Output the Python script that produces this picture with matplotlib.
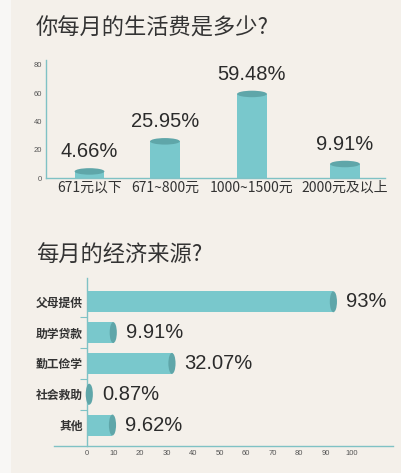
import matplotlib
matplotlib.use("Agg")
import matplotlib.pyplot as plt
from matplotlib.patches import Ellipse, Rectangle

plt.rcParams['font.family'] = ['Noto Sans CJK SC', 'DejaVu Sans']

# chart 1: monthly living expenses
cost_labels = ['671元以下', '671~800元', '1000~1500元', '2000元及以上']
cost_share = [4.66, 25.95, 59.48, 9.91]
cost_ticks = [0, 20, 40, 60, 80]

# chart 2: monthly income source
src_labels = ['父母提供', '助学贷款', '勤工俭学', '社会救助', '其他']
src_share = [93, 9.91, 32.07, 0.87, 9.62]
src_ticks = [0, 10, 20, 30, 40, 50, 60, 70, 80, 90, 100]

body = '#79c8cc'
cap = '#5fa6a9'
axis_col = '#7fc2c5'
bg = '#f4f0ea'
num_font = ['Liberation Sans', 'DejaVu Sans']

fig = plt.figure(figsize=(4.02, 4.73), dpi=100)
fig.patch.set_facecolor(bg)
fig.patches.append(Rectangle((0, 0), 11 / 402, 1, transform=fig.transFigure,
                             facecolor='#f8f7f5', edgecolor='none', zorder=0))

fig.text(36 / 402, 1 - 28 / 473, '你每月的生活费是多少?', fontsize=16,
         color='#333333', va='center', ha='left')
fig.text(36 / 402, 1 - 255 / 473, '每月的经济来源?', fontsize=16,
         color='#333333', va='center', ha='left')

# ---- top chart ----
ax1 = fig.add_axes([46 / 402, 1 - 178 / 473, (385 - 46) / 402, (178 - 60) / 473])
ax1.set_facecolor('none')
xs = [0, 0.886, 1.908, 3.0]  # bar slots, spaced as in the original layout
w = 0.35
ax1.bar(xs, cost_share, width=w, color=body, zorder=2)
for x, v in zip(xs, cost_share):
    ax1.add_patch(Ellipse((x, v), w, 4.6, facecolor=cap, edgecolor='none', zorder=3))
    ax1.annotate(f'{v:.2f}%', (x, v), xytext=(0, 14), textcoords='offset points',
                 ha='center', va='center', fontsize=14.5, color='#2b2b2b', family=num_font)
ax1.set_xlim(-0.511, 3.47)
ax1.set_ylim(0, 83.5)
ax1.set_xticks(xs)
ax1.set_xticklabels(cost_labels, fontsize=10, color='#333333')
ax1.set_yticks(cost_ticks)
ax1.set_yticklabels([str(t) for t in cost_ticks], fontsize=5.5, color='#555555',
                    family=num_font)
ax1.tick_params(axis='both', length=0)
ax1.tick_params(axis='x', pad=2)
ax1.tick_params(axis='y', pad=3)
for s in ['top', 'right']:
    ax1.spines[s].set_visible(False)
for s in ['left', 'bottom']:
    ax1.spines[s].set_color(axis_col)
    ax1.spines[s].set_linewidth(1)

# ---- bottom chart ----
ax2 = fig.add_axes([54 / 402, 1 - 446 / 473, (393 - 54) / 402, (446 - 278) / 473])
ax2.set_facecolor('none')
ys = list(range(len(src_share)))
h = 0.68
ax2.barh(ys, src_share, height=h, color=body, zorder=2)
for y, v in zip(ys, src_share):
    ax2.add_patch(Ellipse((v, y), 2.7, h, facecolor=cap, edgecolor='none', zorder=3))
    txt = f'{v:g}%' if v == int(v) else f'{v:.2f}%'
    ax2.annotate(txt, (v, y), xytext=(9, 0), textcoords='offset points',
                 ha='left', va='center', fontsize=14.5, color='#2b2b2b', family=num_font)
ax2.set_xlim(-12.45, 115.5)
ax2.set_ylim(4.68, -0.77)
ax2.spines['left'].set_position(('data', 0))
ax2.set_yticks(ys)
ax2.set_yticklabels(src_labels, fontsize=8.5, fontweight='bold', color='#333333')
ax2.set_yticks([y + 0.5 for y in ys[:-1]], minor=True)
ax2.tick_params(axis='y', which='major', length=0, pad=3)
ax2.tick_params(axis='y', which='minor', length=5, width=0.8, color=axis_col)
ax2.set_xticks(src_ticks)
ax2.set_xticklabels([str(t) for t in src_ticks], fontsize=5.5, color='#555555',
                    family=num_font)
ax2.tick_params(axis='x', length=0, pad=3)
for s in ['top', 'right']:
    ax2.spines[s].set_visible(False)
for s in ['left', 'bottom']:
    ax2.spines[s].set_color(axis_col)
    ax2.spines[s].set_linewidth(1)

fig.savefig('out.png', dpi=100, facecolor=bg)
